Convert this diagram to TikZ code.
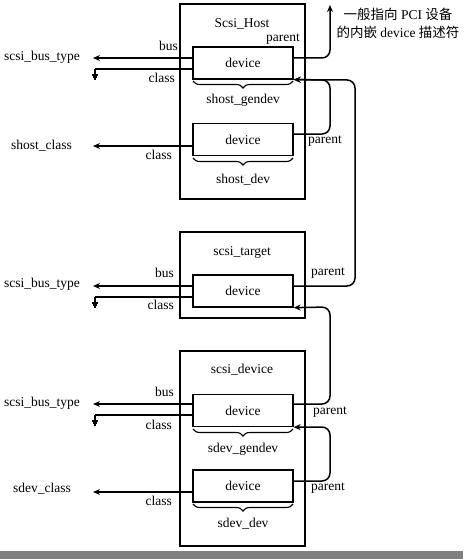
\documentclass[tikz,border=0pt]{standalone}
\usepackage{fontspec}
\setmainfont{Liberation Serif}
\newfontfamily\cjk{Noto Sans CJK SC}
\usetikzlibrary{arrows.meta,decorations.pathreplacing}
\begin{document}
\begin{tikzpicture}[x=1pt,y=-1pt,font=\fontsize{13.5}{15}\selectfont,
  outer/.style={draw,line width=1.3pt,minimum width=125pt,inner sep=0pt},
  dev/.style={draw,line width=1.3pt,minimum width=100pt,minimum height=32pt,inner sep=0pt},
  conn/.style={line width=1.5pt,rounded corners=8pt},
  arr/.style={conn,-{Stealth[length=7pt,width=6pt]}},
  brc/.style={decorate,decoration={brace,mirror,amplitude=7pt},line width=1.1pt},
  lbl/.style={inner sep=0pt},
  gnd/.pic={\draw[line width=1.2pt] (0,0)--(0,6) (-3,6)--(3,6) (-2,8)--(2,8) (-1,10)--(1,10);}]
\useasboundingbox (0,0) rectangle (463,559);
\fill[gray] (0,551) rectangle (463,559);

% outer boxes
\node[outer,minimum height=195pt] (host) at (242.5,101.5) {};
\node[outer,minimum height=86pt] (tgt) at (242.5,275) {};
\node[outer,minimum height=195pt] (sdev) at (242.5,448.5) {};
\node[lbl] (thost) at (242,24) {Scsi\_Host};
\node[lbl] (ttgt) at (242,252) {scsi\_target};
\node[lbl] (tsdev) at (242,370) {scsi\_device};

% device boxes
\node[dev] (d1) at (243,63) {device};
\node[dev] (d2) at (243,139.5) {device};
\node[dev] (d3) at (243,291) {device};
\node[dev] (d4) at (243,410.5) {device};
\node[dev] (d5) at (243,486) {device};

% braces
\draw[brc] (193,81) -- (293,81);
\draw[brc] (193,158) -- (293,158);
\draw[brc] (193,429) -- (293,429);
\draw[brc] (193,504) -- (293,504);
\node[lbl] (b1) at (243,100) {shost\_gendev};
\node[lbl] (b2) at (243,180) {shost\_dev};
\node[lbl] (b4) at (243,449) {sdev\_gendev};
\node[lbl] (b5) at (243,524) {sdev\_dev};

% left targets
\node[lbl] (bt1) at (42,57) {scsi\_bus\_type};
\node[lbl] (sc) at (41.5,146) {shost\_class};
\node[lbl] (bt3) at (42,284) {scsi\_bus\_type};
\node[lbl] (bt4) at (42,403) {scsi\_bus\_type};
\node[lbl] (dc) at (42,489) {sdev\_class};

\coordinate (e1) at (93,58);
\coordinate (e2) at (93,146);
\coordinate (e3) at (93,286);
\coordinate (e4) at (93,404);
\coordinate (e5) at (93,492);
\coordinate (g1) at (95,69);
\coordinate (g3) at (95,297);
\coordinate (g4) at (95,415);

% bus arrows
\draw[arr] (d1.west |- e1) -- (e1);
\draw[arr] (d2.west |- e2) -- (e2);
\draw[arr] (d3.west |- e3) -- (e3);
\draw[arr] (d4.west |- e4) -- (e4);
\draw[arr] (d5.west |- e5) -- (e5);
% class to ground
\draw[conn] (d1.west |- g1) -- (g1);
\draw[conn] (d3.west |- g3) -- (g3);
\draw[conn] (d4.west |- g4) -- (g4);
\pic at (g1) {gnd};
\pic at (g3) {gnd};
\pic at (g4) {gnd};

% labels left
\node[lbl,anchor=east] (lb1) at (178,46) {bus};
\node[lbl,anchor=east] (lc1) at (175,78) {class};
\node[lbl,anchor=east] (lc2) at (172,155) {class};
\node[lbl,anchor=east] (lb3) at (174,273) {bus};
\node[lbl,anchor=east] (lc3) at (174,305) {class};
\node[lbl,anchor=east] (lb4) at (174,392) {bus};
\node[lbl,anchor=east] (lc4) at (172,425) {class};
\node[lbl,anchor=east] (lc5) at (172,501) {class};

% parent connectors
\coordinate (up) at (330,5);
\draw[arr] (d1.east |- e1) -- (330,58) -- (up);
\draw[arr] (d2.east |- 0,134) -- (330,134) -- (330,80) -- (d1.south east);
\draw[arr] (d3.east |- e3) -- (355,286) -- (355,80) -- (d1.south east);
\draw[arr] (d4.east |- e4) -- (330,404) -- (330,307) -- (d3.south east);
\draw[arr] (d5.east |- 0,481) -- (330,481) -- (330,427) -- (d4.south east);

\node[lbl] (p1) at (283,39) {parent};
\node[lbl] (p2) at (325,141) {parent};
\node[lbl] (p3) at (328,273) {parent};
\node[lbl] (p4) at (330,412) {parent};
\node[lbl] (p5) at (328,488) {parent};

\node[lbl] (n1) at (398,14) {{\cjk 一般指向} PCI {\cjk 设备}};
\node[lbl] (n2) at (398,32) {{\cjk 的内嵌} device {\cjk 描述符}};
\end{tikzpicture}
\end{document}
